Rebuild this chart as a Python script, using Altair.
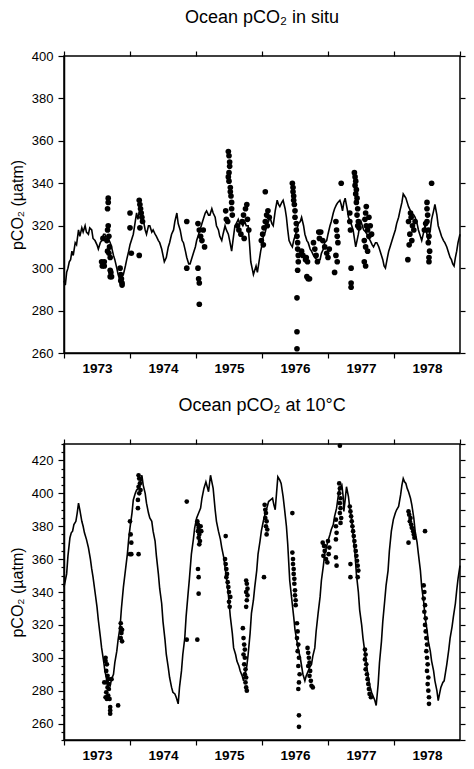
import altair as alt
import pandas as pd

FONT = "Liberation Sans"

years = [1973, 1974, 1975, 1976, 1977, 1978, 1979]
year_labels = [1973, 1974, 1975, 1976, 1977, 1978]

# ---------------- Ocean pCO2 in situ : model line ----------------
situ_t = [
    1973.00, 1973.02, 1973.04, 1973.06, 1973.08, 1973.10, 1973.12, 1973.14, 1973.17, 1973.19,
    1973.22, 1973.24, 1973.27, 1973.29, 1973.32, 1973.34, 1973.37, 1973.39, 1973.42, 1973.44,
    1973.47, 1973.50, 1973.52, 1973.55, 1973.57, 1973.60, 1973.62, 1973.65, 1973.67, 1973.70,
    1973.72, 1973.75, 1973.77, 1973.80, 1973.82, 1973.84, 1973.86, 1973.88, 1973.90, 1973.93,
    1973.95, 1973.98, 1974.00, 1974.03, 1974.05, 1974.08, 1974.10, 1974.12, 1974.15, 1974.18,
    1974.20, 1974.23, 1974.25, 1974.28, 1974.30, 1974.33, 1974.35, 1974.38, 1974.40, 1974.43,
    1974.45, 1974.48, 1974.50, 1974.52, 1974.55, 1974.58, 1974.60, 1974.63, 1974.66, 1974.68,
    1974.71, 1974.73, 1974.76, 1974.79, 1974.81, 1974.84, 1974.86, 1974.89, 1974.91, 1974.94,
    1974.96, 1974.99, 1975.01, 1975.04, 1975.06, 1975.09, 1975.11, 1975.14, 1975.16, 1975.19,
    1975.21, 1975.24, 1975.26, 1975.29, 1975.31, 1975.34, 1975.36, 1975.39, 1975.41, 1975.44,
    1975.46, 1975.49, 1975.51, 1975.54, 1975.56, 1975.59, 1975.61, 1975.64, 1975.66, 1975.69,
    1975.71, 1975.74, 1975.76, 1975.79, 1975.81, 1975.83, 1975.85, 1975.87, 1975.89, 1975.91,
    1975.93, 1975.95, 1975.98, 1976.00, 1976.02, 1976.05, 1976.07, 1976.10, 1976.12, 1976.15,
    1976.17, 1976.20, 1976.23, 1976.25, 1976.27, 1976.30, 1976.32, 1976.35, 1976.37, 1976.39,
    1976.41, 1976.44, 1976.46, 1976.48, 1976.50, 1976.53, 1976.55, 1976.58, 1976.60, 1976.63,
    1976.65, 1976.68, 1976.70, 1976.73, 1976.75, 1976.78, 1976.80, 1976.83, 1976.85, 1976.88,
    1976.90, 1976.93, 1976.95, 1976.98, 1977.00, 1977.03, 1977.05, 1977.08, 1977.10, 1977.13,
    1977.15, 1977.18, 1977.20, 1977.22, 1977.24, 1977.26, 1977.29, 1977.31, 1977.34, 1977.36,
    1977.38, 1977.40, 1977.42, 1977.44, 1977.46, 1977.48, 1977.50, 1977.52, 1977.54, 1977.57,
    1977.59, 1977.62, 1977.64, 1977.67, 1977.69, 1977.72, 1977.74, 1977.77, 1977.79, 1977.81,
    1977.83, 1977.85, 1977.87, 1977.90, 1977.92, 1977.94, 1977.97, 1977.99, 1978.02, 1978.04,
    1978.07, 1978.09, 1978.12, 1978.14, 1978.16, 1978.18, 1978.20, 1978.22, 1978.25, 1978.27,
    1978.30, 1978.32, 1978.35, 1978.37, 1978.40, 1978.42, 1978.45, 1978.47, 1978.50, 1978.52,
    1978.55, 1978.57, 1978.60, 1978.62, 1978.65, 1978.67, 1978.70, 1978.72, 1978.75, 1978.77,
    1978.80, 1978.82, 1978.85, 1978.87, 1978.89, 1978.91, 1978.93, 1978.95, 1978.97, 1979.00,
]
situ_v = [
    294, 292, 298, 300, 303, 304, 308, 306, 312, 311,
    318, 315, 319, 317, 320, 317, 316, 319, 318, 314,
    313, 311, 309, 312, 313, 316, 316, 313, 314, 312,
    310, 306, 304, 300, 297, 295, 293, 296, 297, 301,
    304, 308, 311, 314, 316, 322, 326, 323, 328, 325,
    323, 318, 316, 320, 320, 317, 318, 316, 315, 313,
    312, 309, 306, 303, 305, 310, 312, 316, 318, 322,
    326, 321, 318, 313, 312, 308, 305, 302, 302, 305,
    307, 310, 313, 316, 318, 321, 323, 326, 327, 325,
    325, 328, 326, 324, 320, 318, 315, 313, 316, 320,
    318, 316, 313, 308, 313, 320, 321, 323, 321, 321,
    320, 322, 320, 320, 312, 303, 300, 297, 299, 301,
    298, 302, 308, 311, 315, 317, 320, 322, 324, 321,
    320, 327, 332, 330, 329, 331, 332, 328, 324, 318,
    313, 311, 310, 313, 315, 318, 321, 322, 324, 320,
    316, 313, 312, 309, 308, 306, 305, 304, 304, 304,
    307, 309, 312, 313, 316, 320, 322, 326, 328, 330,
    331, 332, 330, 327, 331, 333, 328, 324, 322, 320,
    318, 314, 310, 313, 316, 320, 322, 320, 318, 317,
    316, 314, 313, 311, 310, 312, 312, 310, 308, 306,
    304, 301, 300, 305, 308, 310, 313, 315, 318, 321,
    324, 327, 331, 335, 334, 333, 331, 329, 327, 326,
    325, 324, 321, 318, 315, 313, 317, 320, 316, 313,
    318, 323, 327, 330, 325, 320, 317, 315, 313, 312,
    310, 308, 305, 304, 302, 301, 305, 308, 312, 316,
]

# ---------------- Ocean pCO2 in situ : observations ----------------
situ_obs_t = [
    1973.57, 1973.58, 1973.59, 1973.67, 1973.67, 1973.66, 1973.67, 1973.66, 1973.68, 1973.65,
    1973.69, 1973.66, 1973.70, 1973.68, 1973.61, 1973.61, 1973.70, 1973.70, 1973.71, 1973.72,
    1973.85, 1973.86, 1973.87, 1973.86, 1973.88, 1973.88,
    1974.00, 1974.00, 1974.02, 1974.14, 1974.15, 1974.16, 1974.17, 1974.18, 1974.19, 1974.15, 1974.14,
    1974.86, 1974.86,
    1975.03, 1975.05, 1975.07, 1975.09, 1975.11, 1975.13, 1975.03, 1975.04, 1975.05, 1975.05,
    1975.49, 1975.50, 1975.51, 1975.51, 1975.50, 1975.49, 1975.50, 1975.52, 1975.52, 1975.53,
    1975.54, 1975.54, 1975.55, 1975.48, 1975.45, 1975.46,
    1975.63, 1975.65, 1975.68, 1975.70, 1975.72, 1975.75, 1975.77, 1975.78, 1975.80, 1975.73,
    1976.05, 1975.99, 1976.01, 1976.03, 1976.05, 1976.07, 1976.09, 1976.11, 1976.02, 1976.08,
    1976.46, 1976.47, 1976.47, 1976.48, 1976.48, 1976.49, 1976.50, 1976.50, 1976.52, 1976.52,
    1976.53, 1976.54, 1976.54, 1976.55, 1976.55, 1976.54, 1976.53, 1976.53, 1976.53,
    1976.60, 1976.62, 1976.66, 1976.67, 1976.68, 1976.69, 1976.70, 1976.72,
    1976.78, 1976.80, 1976.82, 1976.84, 1976.86, 1976.87,
    1976.89, 1976.92, 1976.95, 1976.98, 1977.00, 1977.02,
    1977.12, 1977.13, 1977.14, 1977.15, 1977.12, 1977.14, 1977.10, 1977.20,
    1977.33, 1977.33, 1977.34, 1977.40, 1977.41, 1977.42, 1977.41, 1977.43, 1977.42, 1977.44,
    1977.43, 1977.45, 1977.44, 1977.46, 1977.45, 1977.47, 1977.35, 1977.35, 1977.35,
    1977.58, 1977.57, 1977.56, 1977.58, 1977.60, 1977.62, 1977.55, 1977.57, 1977.60, 1977.55,
    1977.57, 1977.64, 1977.66, 1977.62,
    1978.21, 1978.22, 1978.25, 1978.26, 1978.28, 1978.30, 1978.24, 1978.27, 1978.32, 1978.23,
    1978.57, 1978.50, 1978.50, 1978.51, 1978.50, 1978.52, 1978.53, 1978.52, 1978.54, 1978.53,
    1978.53, 1978.48, 1978.46,
]
situ_obs_v = [
    303, 301, 314, 333, 331, 328, 320, 318, 315, 313,
    310, 308, 305, 307, 303, 301, 299, 296, 298, 296,
    300, 297, 295, 294, 293, 292,
    326, 319, 307, 332, 330, 328, 326, 324, 322, 319, 306,
    322, 300,
    321, 318, 315, 313, 318, 310, 300, 295, 293, 283,
    355, 353, 350, 348, 345, 343, 341, 338, 336, 334,
    331, 328, 325, 322, 327, 323,
    320, 318, 316, 322, 325, 328, 330, 323, 318, 314,
    336, 313, 316, 319, 322, 325, 327, 324, 311, 320,
    340, 338, 336, 334, 332, 330, 327, 324, 321, 318,
    315, 312, 309, 306, 303, 299, 286, 270, 262,
    308, 306, 304, 305, 296, 303, 295, 295,
    312, 309, 306, 303, 317, 314,
    317, 313, 310, 307, 305, 309,
    322, 318, 315, 312, 306, 303, 298, 340,
    326, 322, 318, 345, 343, 341, 339, 337, 335, 333,
    331, 328, 325, 322, 320, 319, 300, 293, 291,
    329, 326, 323, 320, 318, 315, 313, 310, 308, 303,
    301, 320, 316, 324,
    304, 322, 326, 324, 320, 318, 316, 313, 322, 311,
    340, 331, 328, 325, 322, 318, 315, 312, 308, 305,
    303, 321, 318,
]

# ---------------- Ocean pCO2 at 10 C : model line ----------------
at10_t = [
    1973.00, 1973.02, 1973.04, 1973.06, 1973.09, 1973.11, 1973.13, 1973.15, 1973.18, 1973.20,
    1973.22, 1973.24, 1973.27, 1973.29, 1973.31, 1973.34, 1973.37, 1973.40, 1973.42, 1973.44,
    1973.47, 1973.50, 1973.52, 1973.55, 1973.57, 1973.60, 1973.62, 1973.65, 1973.67, 1973.70,
    1973.72, 1973.75, 1973.77, 1973.80, 1973.82, 1973.85, 1973.87, 1973.90, 1973.93, 1973.96,
    1973.98, 1974.00, 1974.03, 1974.05, 1974.08, 1974.10, 1974.13, 1974.15, 1974.18, 1974.20,
    1974.23, 1974.25, 1974.28, 1974.30, 1974.33, 1974.35, 1974.38, 1974.40, 1974.43, 1974.45,
    1974.48, 1974.50, 1974.53, 1974.55, 1974.58, 1974.60, 1974.63, 1974.65, 1974.68, 1974.70,
    1974.73, 1974.75, 1974.78, 1974.80, 1974.83, 1974.85, 1974.88, 1974.90, 1974.93, 1974.96,
    1974.98, 1975.01, 1975.04, 1975.07, 1975.09, 1975.12, 1975.15, 1975.17, 1975.19, 1975.22,
    1975.24, 1975.26, 1975.29, 1975.31, 1975.34, 1975.37, 1975.39, 1975.42, 1975.44, 1975.48,
    1975.50, 1975.52, 1975.55, 1975.57, 1975.60, 1975.62, 1975.65, 1975.67, 1975.70, 1975.72,
    1975.74, 1975.77, 1975.79, 1975.82, 1975.84, 1975.87, 1975.89, 1975.92, 1975.94, 1975.97,
    1975.99, 1976.02, 1976.05, 1976.08, 1976.10, 1976.13, 1976.16, 1976.18, 1976.20, 1976.22,
    1976.24, 1976.27, 1976.29, 1976.32, 1976.34, 1976.37, 1976.39, 1976.42, 1976.45, 1976.48,
    1976.50, 1976.53, 1976.55, 1976.58, 1976.60, 1976.62, 1976.65, 1976.67, 1976.70, 1976.72,
    1976.75, 1976.77, 1976.80, 1976.82, 1976.85, 1976.88, 1976.90, 1976.93, 1976.95, 1976.98,
    1977.00, 1977.03, 1977.05, 1977.08, 1977.10, 1977.13, 1977.15, 1977.17, 1977.19, 1977.21,
    1977.23, 1977.24, 1977.26, 1977.28, 1977.31, 1977.33, 1977.36, 1977.38, 1977.41, 1977.43,
    1977.46, 1977.48, 1977.51, 1977.53, 1977.56, 1977.59, 1977.61, 1977.64, 1977.66, 1977.69,
    1977.71, 1977.73, 1977.76, 1977.78, 1977.81, 1977.83, 1977.86, 1977.88, 1977.91, 1977.93,
    1977.96, 1977.99, 1978.02, 1978.04, 1978.07, 1978.10, 1978.12, 1978.14, 1978.16, 1978.18,
    1978.20, 1978.22, 1978.25, 1978.27, 1978.30, 1978.32, 1978.35, 1978.37, 1978.40, 1978.42,
    1978.45, 1978.47, 1978.50, 1978.52, 1978.55, 1978.57, 1978.60, 1978.62, 1978.65, 1978.67,
    1978.69, 1978.71, 1978.74, 1978.76, 1978.78, 1978.80, 1978.83, 1978.85, 1978.88, 1978.90,
    1978.93, 1978.95, 1978.97, 1979.00,
]
at10_v = [
    343, 347, 351, 362, 373, 376, 377, 381, 383, 388,
    394, 390, 383, 380, 376, 372, 367, 360, 354, 349,
    340, 331, 323, 313, 306, 298, 292, 286, 284, 283,
    287, 290, 297, 304, 311, 319, 330, 343, 353, 363,
    372, 379, 388, 396, 400, 402, 403, 405, 411, 405,
    400, 394, 388, 385, 383, 377, 371, 362, 351, 342,
    333, 322, 311, 302, 294, 288, 282, 279, 278, 276,
    272, 282, 292, 302, 312, 325, 339, 348, 363, 372,
    379, 385, 388, 391, 397, 403, 407, 404, 401, 411,
    407, 403, 390, 383, 377, 372, 367, 361, 355, 343,
    334, 325, 315, 306, 302, 298, 295, 292, 289, 286,
    290, 295, 302, 315, 327, 335, 343, 353, 363, 371,
    377, 383, 388, 392, 395, 396, 397, 393, 390, 400,
    410, 408, 406, 398, 391, 380, 369, 347, 336, 325,
    317, 310, 305, 300, 295, 290, 286, 289, 292, 294,
    296, 301, 306, 316, 327, 337, 347, 356, 363, 368,
    371, 375, 378, 381, 386, 391, 397, 402, 404, 405,
    398, 389, 396, 404, 398, 391, 384, 375, 363, 351,
    340, 329, 320, 312, 303, 294, 288, 282, 279, 276,
    274, 271, 284, 297, 310, 322, 335, 344, 353, 365,
    377, 384, 388, 390, 392, 399, 405, 409, 407, 406,
    403, 401, 397, 393, 385, 377, 370, 363, 353, 343,
    334, 325, 317, 310, 304, 298, 292, 286, 280, 274,
    278, 282, 285, 286, 291, 296, 305, 312, 319, 325,
    333, 341, 348, 356,
]

# ---------------- Ocean pCO2 at 10 C : observations ----------------
at10_obs_t = [
    1973.63, 1973.63, 1973.65, 1973.64, 1973.66, 1973.67, 1973.65, 1973.68, 1973.66, 1973.68,
    1973.64, 1973.67, 1973.63, 1973.65, 1973.69, 1973.70, 1973.70, 1973.70, 1973.82, 1973.72,
    1973.61,
    1973.86, 1973.86, 1973.87, 1973.86, 1973.88, 1973.88,
    1974.00, 1974.01, 1974.02, 1974.00, 1974.02, 1974.13, 1974.14, 1974.15, 1974.13, 1974.16,
    1974.14, 1974.12, 1974.12, 1974.13,
    1974.86, 1974.86,
    1975.02, 1975.02, 1975.03, 1975.04, 1975.03, 1975.05, 1975.04, 1975.06, 1975.05, 1975.07,
    1975.08, 1975.03, 1975.04, 1975.04,
    1975.45, 1975.44, 1975.45, 1975.46, 1975.47, 1975.46, 1975.48, 1975.49, 1975.50, 1975.52,
    1975.50, 1975.51,
    1975.76, 1975.77, 1975.78, 1975.76, 1975.78, 1975.77, 1975.76,
    1975.71, 1975.72, 1975.73, 1975.74, 1975.72, 1975.74, 1975.73, 1975.75, 1975.74, 1975.76,
    1975.75, 1975.76, 1975.77,
    1976.03, 1976.04, 1976.05, 1976.06, 1976.05, 1976.07, 1976.06, 1976.08, 1976.07,
    1976.46, 1976.46, 1976.47, 1976.47, 1976.48, 1976.48, 1976.49, 1976.49, 1976.50, 1976.50,
    1976.51, 1976.51,
    1976.53, 1976.54, 1976.53, 1976.55, 1976.54, 1976.56, 1976.55, 1976.57, 1976.56, 1976.55,
    1976.56, 1976.56,
    1976.69, 1976.70, 1976.71, 1976.72, 1976.70, 1976.73, 1976.72, 1976.74, 1976.75, 1976.77,
    1976.92, 1976.94, 1976.95, 1976.93, 1976.97, 1976.99, 1977.00, 1977.02, 1977.01,
    1977.12, 1977.12, 1977.13, 1977.12, 1977.12, 1977.13,
    1977.17, 1977.18, 1977.17, 1977.19, 1977.18, 1977.19, 1977.18, 1977.20, 1977.19, 1977.18,
    1977.33, 1977.34, 1977.35, 1977.36, 1977.37, 1977.38, 1977.39, 1977.40, 1977.41, 1977.42,
    1977.43, 1977.44, 1977.45, 1977.46, 1977.34, 1977.34, 1977.45,
    1977.56, 1977.57, 1977.56, 1977.58, 1977.57, 1977.59, 1977.60, 1977.61, 1977.62, 1977.63,
    1977.65,
    1978.22, 1978.23, 1978.25, 1978.24, 1978.26, 1978.27, 1978.29, 1978.30, 1978.31, 1978.22,
    1978.47,
    1978.45, 1978.46, 1978.45, 1978.47, 1978.46, 1978.48, 1978.47, 1978.48, 1978.49, 1978.50,
    1978.49, 1978.50, 1978.51, 1978.50, 1978.52, 1978.51, 1978.52, 1978.53, 1978.53,
]
at10_obs_v = [
    300, 298, 296, 292, 289, 287, 285, 284, 282, 281,
    279, 277, 276, 275, 275, 270, 268, 266, 271, 287,
    285,
    321, 318, 315, 312, 310, 317,
    383, 375, 370, 363, 363, 411, 409, 406, 404, 402,
    400, 396, 391, 363,
    395, 311,
    311, 383, 381, 379, 377, 375, 373, 371, 369, 380,
    377, 354, 349, 339,
    374, 360, 357, 354, 351, 349, 346, 343, 340, 337,
    334, 331,
    347, 345, 342, 340, 338, 335, 331,
    318, 312, 308, 305, 302, 300, 296, 293, 290, 288,
    285, 282, 280,
    349, 393, 390, 388, 385, 383, 380, 378, 375,
    388, 364, 360, 357, 354, 351, 348, 345, 341, 338,
    335, 332,
    321, 316, 312, 308, 304, 300, 295, 290, 285, 281,
    265, 258,
    306, 303, 300, 297, 295, 292, 289, 286, 283, 282,
    370, 368, 365, 362, 360, 358, 371, 367, 363,
    384, 380, 376, 372, 361, 356,
    406, 403, 400, 397, 394, 391, 388, 385, 382, 429,
    392, 389, 386, 383, 380, 377, 374, 371, 368, 365,
    362, 359, 356, 353, 357, 349, 349,
    305, 302, 299, 296, 293, 290, 287, 284, 281, 278,
    276,
    389, 387, 385, 383, 381, 379, 377, 375, 373, 370,
    377,
    344, 340, 336, 332, 328, 324, 320, 316, 312, 308,
    304, 300, 296, 292, 288, 284, 280, 276, 272,
]

situ_yticks = [260, 280, 300, 320, 340, 360, 380, 400]
at10_yticks_minor = [250, 255, 260, 265, 270, 275, 280, 285, 290, 295, 300, 305, 310, 315,
                     320, 325, 330, 335, 340, 345, 350, 355, 360, 365, 370, 375, 380, 385,
                     390, 395, 400, 405, 410, 415, 420, 425, 430]
at10_yticks_right = [250, 260, 270, 280, 290, 300, 310, 320, 330, 340, 350, 360, 370, 380,
                     390, 400, 410, 420, 430]

PW = 396


def mirror_axis(orient, vals):
    return alt.Axis(orient=orient, values=vals, labels=True, labelExpr="''",
                    labelFontSize=1, labelPadding=0, ticks=True, tickSize=5,
                    tickColor="black", tickWidth=1.2, tickOpacity=1, domain=False,
                    title=None, grid=False)


def panel(lt, lv, ot, ov, ydom, left_axis, right_vals, title, h, dot):
    line_df = pd.DataFrame({"t": lt, "v": lv})
    obs_df = pd.DataFrame({"t": ot, "v": ov})
    line = alt.Chart(line_df).mark_line(color="black", strokeWidth=1.6).encode(
        x=alt.X("t:Q", scale=alt.Scale(domain=[1973, 1979], nice=False, zero=False),
                axis=alt.Axis(
                    orient="bottom", values=year_labels, format="d",
                    labelOffset=PW / 12, labelFontWeight="bold", labelFontSize=13.5,
                    labelFlush=False, labelOverlap=False, labelPadding=3,
                    tickSize=5, title=None, grid=False)),
        y=alt.Y("v:Q", scale=alt.Scale(domain=ydom, nice=False, zero=False), axis=left_axis),
    )
    pts = alt.Chart(obs_df).mark_circle(color="black", opacity=1, size=dot).encode(
        x=alt.X("t:Q", scale=alt.Scale(domain=[1973, 1979], nice=False, zero=False),
                axis=mirror_axis("top", years)),
        y=alt.Y("v:Q", scale=alt.Scale(domain=ydom, nice=False, zero=False),
                axis=mirror_axis("right", right_vals)),
    )
    return alt.layer(line, pts).resolve_scale(
        x="independent", y="independent"
    ).resolve_axis(
        x="independent", y="independent"
    ).properties(
        width=PW, height=h,
        title=alt.TitleParams(title, anchor="middle", offset=23),
    )


top_left = alt.Axis(orient="left", values=situ_yticks, tickSize=6, labelPadding=5,
                    title="pCO₂ (µatm)", titlePadding=6, grid=False, labelFlush=False)
bot_left = alt.Axis(orient="left", values=at10_yticks_minor,
                    tickSize={"condition": {"test": "datum.value % 20 === 0", "value": 6}, "value": 3},
                    labelExpr="(datum.value % 20 === 0 && datum.value > 250 && datum.value < 430) ? datum.label : ''",
                    labelPadding=5, labelFlush=False, labelOverlap=False,
                    title="pCO₂ (µatm)", titlePadding=6, grid=False)

top = panel(situ_t, situ_v, situ_obs_t, situ_obs_v, [260, 400], top_left, situ_yticks,
            "Ocean pCO₂ in situ", 297, 32)
bottom = panel(at10_t, at10_v, at10_obs_t, at10_obs_v, [250, 430], bot_left, at10_yticks_right,
               "Ocean pCO₂ at 10°C", 296, 22)

chart = alt.vconcat(top, bottom, spacing=20).properties(
    padding={"top": 8, "left": 8, "right": 2, "bottom": 2}
).configure_view(
    stroke="black", strokeWidth=1.5
).configure_axis(
    domainColor="black", domainWidth=1.5, tickColor="black", tickWidth=1.2,
    labelColor="black", labelFont=FONT, labelFontSize=13,
    titleFont=FONT, titleFontSize=16, titleFontWeight="normal", titleColor="black",
).configure_title(
    font=FONT, fontSize=18, fontWeight="normal", color="black"
)

chart.save("out.html", embed_options={"renderer": "svg", "actions": False})
